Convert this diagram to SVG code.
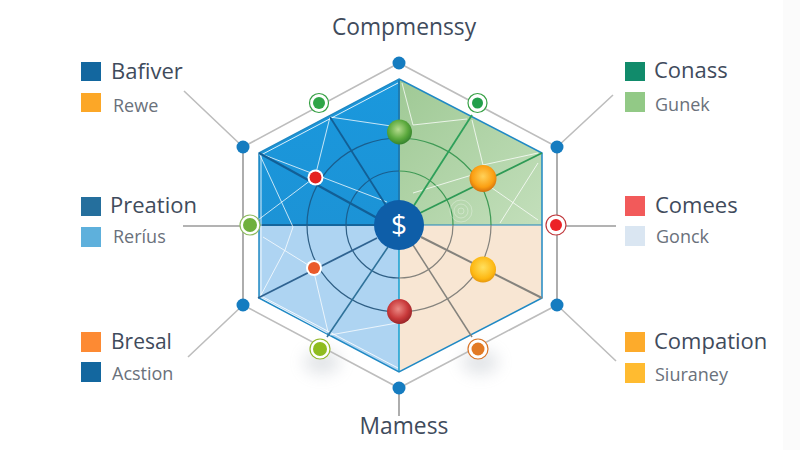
<svg xmlns="http://www.w3.org/2000/svg" width="800" height="450" viewBox="0 0 800 450">
<style>
text{font-family:"Open Sans","Noto Sans","Liberation Sans",sans-serif}
.h{font-size:22px;fill:#3f4b5c;font-weight:500}
.s{font-size:18px;fill:#6a717b}
.t{font-size:22.800px;fill:#3f4b5c;text-anchor:middle;font-weight:500}
.o{fill:none;stroke:#bdbdbd;stroke-width:1.6}
.v{fill:none;stroke:#9a9a9a;stroke-width:1.6}
.w{fill:none;stroke:#fff;stroke-width:1;stroke-opacity:.75}
.hub{fill:#157cc0}
</style>
<defs>
<linearGradient id="gf" x1="0" y1="0" x2="1" y2="1"><stop offset="0" stop-color="#9fc995"/><stop offset="1" stop-color="#c3dfbb"/></linearGradient>
<linearGradient id="bf" x1="0" y1="0" x2="0" y2="1"><stop offset="0" stop-color="#1a98dd"/><stop offset="1" stop-color="#1c93d6"/></linearGradient>
<radialGradient id="sg" cx=".45" cy=".4" r=".65"><stop offset="0" stop-color="#b6dc8e"/><stop offset=".6" stop-color="#5aa83c"/><stop offset="1" stop-color="#2c7a2a"/></radialGradient>
<radialGradient id="so" cx=".5" cy=".42" r=".62"><stop offset="0" stop-color="#ffd25a"/><stop offset=".65" stop-color="#fb9f12"/><stop offset="1" stop-color="#c9640c"/></radialGradient>
<radialGradient id="sy" cx=".5" cy=".42" r=".62"><stop offset="0" stop-color="#ffe05e"/><stop offset=".7" stop-color="#fdb813"/><stop offset="1" stop-color="#e08f0c"/></radialGradient>
<radialGradient id="sr" cx=".45" cy=".4" r=".65"><stop offset="0" stop-color="#ec8a85"/><stop offset=".6" stop-color="#c8393a"/><stop offset="1" stop-color="#8e2024"/></radialGradient>
<filter id="b" x="-80%" y="-80%" width="260%" height="260%"><feGaussianBlur stdDeviation="8"/></filter>
<filter id="b2" x="-50%" y="-50%" width="200%" height="200%"><feGaussianBlur stdDeviation="3"/></filter>
</defs>
<rect width="800" height="450" fill="#fff"/>
<rect x="783" width="17" height="450" fill="#fbfbfb"/>

<g id="shadows" fill="#8c96a3">
<ellipse cx="322" cy="362" rx="18" ry="12" filter="url(#b)" opacity=".25"/>
<ellipse cx="480" cy="362" rx="18" ry="12" filter="url(#b)" opacity=".25"/>
<ellipse cx="399" cy="238" rx="22" ry="14" filter="url(#b2)" opacity=".4"/>
</g>

<g id="connectors">
<path class="o" d="M399 63L557 147M557 305L399 388L243 305M243 147L399 63"/>
<path class="v" d="M243 147V305M557 147V305"/>
<path class="o" d="M184 91L243 147M188 357L243 305M613 95L557 147M616 361L557 305"/>
<path class="v" d="M183 226H243M556 226H616M399 388V416"/>
</g>

<g id="hexagon">
<path d="M399 79L259 153V225H399Z" fill="url(#bf)"/>
<path d="M399 79L542 153V225H399Z" fill="url(#gf)"/>
<path d="M399 225H259V298L399 372Z" fill="#aed4f2"/>
<path d="M399 225H542V298L399 372Z" fill="#f8e6d3"/>
<path d="M399 225H542" stroke="#1f86bd" stroke-width="1.200"/>
<path d="M259 225H399" stroke="#15659c" stroke-width="2"/>
<path d="M399 79V372" stroke="#14a0d0" stroke-width="1.500"/>
<path d="M399 79V225" stroke="#1f6fa7" stroke-width="1.500"/>
<path d="M399 79L542 153V298L399 372L259 298V153Z" fill="none" stroke="#2089c4" stroke-width="1.500"/>
<path d="M398 83L261 155M261 155V296L398 368" fill="none" stroke="#fff" stroke-width="1" stroke-opacity=".85"/>

<g fill="none" stroke-width="1.200">
<path d="M307 225A92 87 0 0 1 399 138M346 225A53 54 0 0 1 399 171" stroke="#1a5e8e"/>
<path d="M399 138A92 87 0 0 1 491 225M399 171A54 54 0 0 1 453 225" stroke="#3f9a55"/>
<path d="M307 225A92 87 0 0 0 399 312M346 225A53 53 0 0 0 399 278" stroke="#2f5f85"/>
<path d="M399 312A92 87 0 0 0 491 225M399 278A54 53 0 0 0 453 225" stroke="#85837d"/>
</g>

<path class="w" d="M330 117L398 127M330 117L315 177M259 153L387 202M259 153L293 227M258 220L315 177M402 83L413 125M413 125L467 119M472 120L483 165M483 165L538 153M413 193L472 175M492 188L538 220M500 223L538 163M285 250L260 297M293 227L285 250M263 237L313 268M313 268L328 332M330 335L397 323M260 297L327 333"/>

<path d="M259 153L388 224" stroke="#125f96" stroke-width="2.200"/>
<path d="M330 117L387 207" stroke="#125f96" stroke-width="1.800"/>
<path d="M413 207L472 115" stroke="#2ea05a" stroke-width="1.800"/>
<path d="M420 213L542 153" stroke="#2e9a55" stroke-width="1.800"/>
<path d="M258 298L377 238" stroke="#2f6391" stroke-width="1.800"/>
<path d="M327 337L388 247" stroke="#2f729a" stroke-width="1.600"/>
<path d="M421 237L542 298" stroke="#85837d" stroke-width="2"/>
<path d="M413 245L472 337" stroke="#85837d" stroke-width="1.500"/>
<g fill="none" stroke="#fff" stroke-opacity=".3" stroke-width="1"><circle cx="461" cy="211" r="3"/><circle cx="461" cy="211" r="7"/><circle cx="461" cy="211" r="11"/></g>
</g>

<g id="node-top"><circle class="hub" cx="399" cy="63" r="6.500"/></g>
<g id="node-upper-right"><circle class="hub" cx="557" cy="147" r="6.500"/></g>
<g id="node-lower-right"><circle class="hub" cx="557" cy="305" r="6.500"/></g>
<g id="node-bottom"><circle class="hub" cx="399" cy="388" r="6.500"/></g>
<g id="node-lower-left"><circle class="hub" cx="243" cy="305" r="6.500"/></g>
<g id="node-upper-left"><circle class="hub" cx="243" cy="147" r="6.500"/></g>

<g id="ring-1"><circle cx="319" cy="103" r="9.500" fill="#fff" stroke="#36a044" stroke-width="1.200"/><circle cx="319" cy="103" r="6" fill="#2fa547"/></g>
<g id="ring-2"><circle cx="477.500" cy="103" r="9.500" fill="#fff" stroke="#36a044" stroke-width="1.200"/><circle cx="477.500" cy="103" r="5.500" fill="#239f4b"/></g>
<g id="ring-3"><circle cx="250" cy="225" r="10" fill="#fff" stroke="#8dbb5f" stroke-width="1.200"/><circle cx="250" cy="225" r="7" fill="#6fb03c"/></g>
<g id="ring-4"><circle cx="556" cy="225" r="10" fill="#fff" stroke="#c0393d" stroke-width="1.200"/><circle cx="556" cy="225" r="6" fill="#ec2227"/></g>
<g id="ring-5"><circle cx="320" cy="349" r="10" fill="#fff" stroke="#93b82c" stroke-width="1.200"/><circle cx="320" cy="349" r="7" fill="#8fbc1f"/></g>
<g id="ring-6"><circle cx="478" cy="349" r="10" fill="#fff" stroke="#d9762a" stroke-width="1.200"/><circle cx="478" cy="349" r="6.500" fill="#e27a24"/></g>

<g id="dot-red"><circle cx="315.500" cy="177.500" r="8" fill="#fff"/><circle cx="315.500" cy="177.500" r="6" fill="#e4231f"/></g>
<g id="dot-orange"><circle cx="314" cy="268" r="8" fill="#fff"/><circle cx="314" cy="268" r="6" fill="#ea5a2b"/></g>

<g id="sphere-green"><circle cx="399.500" cy="132" r="12.500" fill="url(#sg)"/></g>
<g id="sphere-orange"><circle cx="483" cy="178.500" r="13.500" fill="url(#so)"/></g>
<g id="sphere-yellow"><circle cx="483" cy="269.500" r="13" fill="url(#sy)"/></g>
<g id="sphere-red"><circle cx="399.500" cy="311.500" r="12.500" fill="url(#sr)"/></g>

<g id="center"><circle cx="399" cy="225" r="25" fill="#0e5ea8"/><text x="399" y="235" text-anchor="middle" style="font-size:28px;fill:#fff">$</text></g>

<g id="title-top"><text class="t" x="404" y="35">Compmenssy</text></g>
<g id="title-bottom"><text class="t" x="404" y="434">Mamess</text></g>

<g id="legend-left">
<rect x="81" y="62" width="20" height="19" fill="#13679f"/><text class="h" x="111" y="79">Bafiver</text>
<rect x="81" y="93" width="20" height="19" fill="#fca727"/><text class="s" x="113" y="112">Rewe</text>
<rect x="81" y="197" width="20" height="19" fill="#256f9d"/><text class="h" x="110" y="213">Preation</text>
<rect x="81" y="227" width="20" height="20" fill="#5eb0dc"/><text class="s" x="113" y="243">Reríus</text>
<rect x="81" y="332" width="20" height="20" fill="#fd8a33"/><text class="h" x="111" y="349" style="font-size:21px">Bresal</text>
<rect x="81" y="362" width="20" height="20" fill="#13679f"/><text class="s" x="112" y="380">Acstion</text>
</g>
<g id="legend-right">
<rect x="625" y="62" width="20" height="19" fill="#118b6b"/><text class="h" x="654" y="78">Conass</text>
<rect x="625" y="92" width="20" height="20" fill="#92c986"/><text class="s" x="655" y="111">Gunek</text>
<rect x="625" y="196" width="20" height="20" fill="#f25a5a"/><text class="h" x="655" y="213">Comees</text>
<rect x="625" y="226" width="20" height="20" fill="#dae6f2"/><text class="s" x="656" y="243">Gonck</text>
<rect x="625" y="332" width="20" height="20" fill="#fdab2b"/><text class="h" x="654" y="349">Compation</text>
<rect x="625" y="363" width="20" height="20" fill="#ffbb30"/><text class="s" x="655" y="381">Siuraney</text>
</g>
</svg>
